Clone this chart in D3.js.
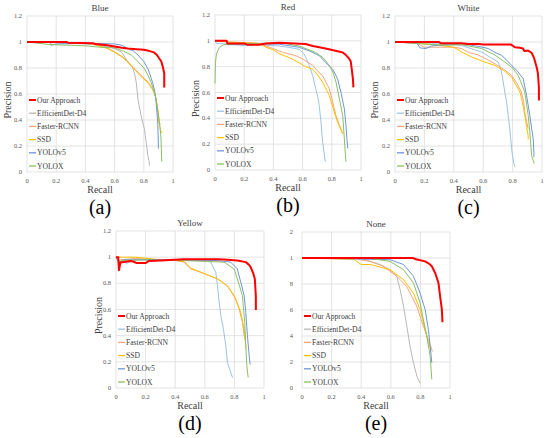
<!DOCTYPE html>
<html><head><meta charset="utf-8">
<script src="https://cdn.jsdelivr.net/npm/d3@7"></script>
<style>body{margin:0;background:#fff}svg{display:block}</style>
</head><body>
<svg id="c" width="550" height="438"></svg>
<script>
// ---------- data ----------
const seriesNames = ["Our Approach","EfficientDet-D4","Faster-RCNN","SSD","YOLOv5","YOLOX"];
const panelTitles = ["Blue","Red","White","Yellow","None"];
const panelLetters = ["(a)","(b)","(c)","(d)","(e)"];
const xTicks = [0,0.2,0.4,0.6,0.8,1];
const xTickLabels = ["0","0.2","0.4","0.6","0.8","1"];
const yTicks = [0,0.2,0.4,0.6,0.8,1,1.2];
const yTickLabels = ["0","0.2","0.4","0.6","0.8","1","1.2"];
const yTickLabelsCropped = ["0","2","4","6","8","1","2"];

// Blue
const blueOurs = [[0,1],[0.27,1],[0.28,0.995],[0.45,0.99],[0.47,0.985],[0.55,0.975],[0.6,0.965],[0.65,0.955],[0.69,0.95],[0.75,0.945],[0.8,0.94],[0.84,0.93],[0.87,0.92],[0.89,0.9],[0.905,0.875],[0.92,0.85],[0.93,0.81],[0.94,0.76],[0.94,0.65]];
const blueEff = [[0,1],[0.2,0.995],[0.4,0.985],[0.5,0.975],[0.6,0.95],[0.65,0.92],[0.69,0.85],[0.725,0.8],[0.74,0.74],[0.748,0.69],[0.755,0.62],[0.76,0.56],[0.77,0.5],[0.78,0.44],[0.795,0.37],[0.805,0.33],[0.81,0.28],[0.816,0.23],[0.822,0.18],[0.827,0.13],[0.835,0.09],[0.84,0.05]];
const blueFaster = [[0,1],[0.3,0.995],[0.45,0.985],[0.55,0.955],[0.6,0.925],[0.65,0.89],[0.69,0.85],[0.74,0.79],[0.78,0.745],[0.83,0.69],[0.86,0.64],[0.875,0.6],[0.885,0.56],[0.895,0.46],[0.9,0.42],[0.905,0.38],[0.915,0.37]];
const blueSSD = [[0,1],[0.3,0.995],[0.45,0.985],[0.55,0.95],[0.6,0.92],[0.65,0.885],[0.69,0.845],[0.74,0.785],[0.78,0.735],[0.83,0.685],[0.86,0.635],[0.88,0.58],[0.89,0.52],[0.9,0.45],[0.907,0.36],[0.915,0.32],[0.925,0.3]];
const blueV5 = [[0,1],[0.16,1],[0.165,0.975],[0.2,0.985],[0.4,0.99],[0.6,0.985],[0.65,0.975],[0.69,0.95],[0.73,0.93],[0.76,0.9],[0.8,0.85],[0.83,0.79],[0.86,0.69],[0.875,0.62],[0.884,0.54],[0.89,0.46],[0.895,0.385],[0.898,0.3],[0.9,0.18]];
const blueX = [[0,1],[0.16,0.98],[0.3,0.975],[0.4,0.97],[0.5,0.96],[0.6,0.955],[0.66,0.93],[0.714,0.9],[0.76,0.85],[0.805,0.795],[0.83,0.74],[0.85,0.69],[0.87,0.62],[0.884,0.564],[0.895,0.48],[0.907,0.385],[0.915,0.3],[0.918,0.256],[0.92,0.18],[0.923,0.08]];

// Red
const redOurs = [[0,1],[0.08,1],[0.085,0.98],[0.2,0.98],[0.22,0.97],[0.3,0.97],[0.35,0.98],[0.44,0.985],[0.62,0.975],[0.67,0.96],[0.74,0.945],[0.78,0.935],[0.84,0.92],[0.875,0.91],[0.897,0.89],[0.92,0.86],[0.93,0.84],[0.94,0.75],[0.945,0.7],[0.948,0.64]];
const redEff = [[0,1],[0.01,0.98],[0.1,0.975],[0.2,0.965],[0.3,0.97],[0.44,0.96],[0.5,0.95],[0.577,0.935],[0.61,0.9],[0.646,0.81],[0.669,0.73],[0.69,0.63],[0.705,0.56],[0.714,0.5],[0.726,0.37],[0.737,0.22],[0.749,0.115],[0.756,0.064]];
const redFaster = [[0,1],[0.1,0.99],[0.25,0.985],[0.3,0.98],[0.35,0.96],[0.4,0.94],[0.44,0.92],[0.5,0.9],[0.554,0.885],[0.6,0.86],[0.669,0.81],[0.7,0.77],[0.737,0.73],[0.76,0.68],[0.783,0.63],[0.806,0.526],[0.829,0.42],[0.852,0.346],[0.875,0.28]];
const redSSD = [[0,1],[0.1,0.99],[0.3,0.98],[0.35,0.95],[0.4,0.93],[0.44,0.9],[0.51,0.87],[0.577,0.83],[0.62,0.8],[0.669,0.78],[0.7,0.74],[0.737,0.68],[0.783,0.577],[0.817,0.45],[0.84,0.37],[0.863,0.31],[0.875,0.28]];
const redV5 = [[0,1],[0.08,1],[0.085,0.97],[0.2,0.97],[0.3,0.975],[0.44,0.974],[0.577,0.95],[0.65,0.92],[0.714,0.885],[0.76,0.83],[0.806,0.78],[0.84,0.705],[0.863,0.6],[0.886,0.474],[0.897,0.346],[0.903,0.25],[0.909,0.167]];
const redX = [[0,0.67],[0.003,0.83],[0.01,0.9],[0.03,0.95],[0.06,0.97],[0.1,0.975],[0.3,0.98],[0.44,0.987],[0.577,0.96],[0.69,0.91],[0.74,0.87],[0.783,0.81],[0.81,0.75],[0.829,0.68],[0.852,0.55],[0.875,0.42],[0.886,0.24],[0.893,0.12],[0.897,0.064]];

// White
const whiteOurs = [[0,1],[0.3,1],[0.31,0.99],[0.45,0.99],[0.5,0.985],[0.57,0.985],[0.6,0.98],[0.79,0.98],[0.815,0.96],[0.85,0.955],[0.87,0.95],[0.88,0.93],[0.906,0.935],[0.93,0.915],[0.945,0.88],[0.955,0.84],[0.965,0.8],[0.972,0.76],[0.979,0.65],[0.979,0.55]];
const whiteEff = [[0,1],[0.3,0.99],[0.45,0.974],[0.589,0.923],[0.65,0.88],[0.702,0.846],[0.725,0.77],[0.735,0.7],[0.747,0.615],[0.76,0.53],[0.77,0.436],[0.781,0.333],[0.788,0.25],[0.793,0.18],[0.8,0.12],[0.808,0.07],[0.815,0.04]];
const whiteFaster = [[0,1],[0.15,0.99],[0.2,0.96],[0.4,0.96],[0.453,0.95],[0.5,0.92],[0.566,0.9],[0.62,0.87],[0.679,0.833],[0.74,0.79],[0.793,0.744],[0.83,0.68],[0.86,0.615],[0.875,0.54],[0.883,0.46],[0.895,0.39],[0.906,0.333]];
const whiteSSD = [[0,1],[0.15,0.99],[0.3,0.975],[0.4,0.96],[0.453,0.923],[0.521,0.885],[0.6,0.85],[0.679,0.82],[0.74,0.78],[0.793,0.73],[0.85,0.615],[0.87,0.52],[0.883,0.436],[0.895,0.35],[0.906,0.28],[0.906,0.25]];
const whiteV5 = [[0,1],[0.15,0.99],[0.17,0.955],[0.21,0.95],[0.25,0.97],[0.35,0.98],[0.453,0.987],[0.55,0.97],[0.634,0.95],[0.68,0.92],[0.725,0.897],[0.76,0.86],[0.793,0.82],[0.83,0.78],[0.872,0.718],[0.895,0.59],[0.917,0.436],[0.93,0.33],[0.94,0.256],[0.945,0.15],[0.945,0.115]];
const whiteX = [[0,1],[0.15,0.99],[0.2,0.985],[0.35,0.975],[0.453,0.98],[0.589,0.95],[0.68,0.9],[0.747,0.846],[0.8,0.8],[0.838,0.744],[0.883,0.615],[0.895,0.52],[0.906,0.436],[0.917,0.31],[0.929,0.128],[0.94,0.09],[0.947,0.064]];

// Yellow
const yellowOurs = [[0,1],[0.015,1],[0.02,0.9],[0.03,0.96],[0.1,0.97],[0.12,0.965],[0.14,0.955],[0.2,0.955],[0.22,0.97],[0.3,0.975],[0.46,0.985],[0.686,0.985],[0.73,0.982],[0.82,0.974],[0.877,0.962],[0.9,0.94],[0.91,0.923],[0.929,0.872],[0.938,0.834],[0.945,0.7],[0.945,0.596]];
const yellowEff = [[0,1],[0.02,0.95],[0.05,0.97],[0.07,0.95],[0.1,0.97],[0.15,0.98],[0.46,0.974],[0.595,0.974],[0.64,0.962],[0.674,0.885],[0.686,0.78],[0.697,0.655],[0.708,0.552],[0.726,0.45],[0.742,0.322],[0.753,0.194],[0.776,0.118],[0.787,0.08]];
const yellowFaster = [[0,1],[0.02,0.97],[0.03,0.98],[0.13,0.99],[0.3,0.98],[0.4,0.975],[0.46,0.962],[0.505,0.91],[0.573,0.885],[0.686,0.834],[0.753,0.78],[0.798,0.706],[0.832,0.604],[0.855,0.5],[0.866,0.4],[0.877,0.348]];
const yellowSSD = [[0,1],[0.13,1],[0.3,0.98],[0.4,0.975],[0.46,0.967],[0.505,0.916],[0.573,0.885],[0.686,0.834],[0.753,0.78],[0.809,0.68],[0.843,0.578],[0.866,0.45],[0.877,0.322],[0.88,0.3]];
const yellowV5 = [[0,1],[0.02,0.96],[0.05,0.98],[0.46,0.982],[0.686,0.974],[0.775,0.962],[0.82,0.91],[0.843,0.808],[0.866,0.706],[0.877,0.578],[0.888,0.4],[0.9,0.246],[0.906,0.18]];
const yellowX = [[0,1],[0.02,0.97],[0.05,0.975],[0.2,0.98],[0.46,0.974],[0.73,0.962],[0.798,0.91],[0.82,0.834],[0.854,0.706],[0.87,0.5],[0.877,0.322],[0.884,0.169],[0.893,0.08]];

// None
const noneOurs = [[0,1],[0.75,1],[0.77,0.99],[0.832,0.974],[0.86,0.955],[0.877,0.936],[0.9,0.885],[0.91,0.85],[0.922,0.808],[0.933,0.706],[0.945,0.604],[0.949,0.506]];
const noneEff = [[0,1],[0.4,1],[0.46,0.974],[0.528,0.95],[0.595,0.91],[0.64,0.86],[0.663,0.757],[0.686,0.63],[0.708,0.476],[0.73,0.322],[0.753,0.194],[0.776,0.092],[0.798,0.036]];
const noneFaster = [[0,1],[0.35,1],[0.4,0.985],[0.46,0.974],[0.55,0.936],[0.64,0.86],[0.708,0.78],[0.775,0.63],[0.82,0.476],[0.854,0.373],[0.877,0.297],[0.88,0.28]];
const noneSSD = [[0,1],[0.35,0.99],[0.4,0.95],[0.46,0.95],[0.595,0.91],[0.686,0.834],[0.753,0.73],[0.798,0.604],[0.832,0.45],[0.854,0.348],[0.87,0.297]];
const noneV5 = [[0,1],[0.46,0.99],[0.595,0.987],[0.686,0.95],[0.753,0.86],[0.798,0.73],[0.832,0.604],[0.854,0.45],[0.866,0.322],[0.877,0.194]];
const noneX = [[0,1],[0.46,0.997],[0.595,0.974],[0.686,0.91],[0.753,0.808],[0.798,0.655],[0.82,0.527],[0.843,0.4],[0.866,0.246],[0.877,0.066]];

// ---------- layout / style ----------
const colOurs = "#ff0000", colGray = "#b8b8b8", colLightBlue = "#9dc3e6",
      colFaster = "#f4a57c", colSSD = "#ffc000", colV5 = "#6d96da", colX = "#8cc063";

const panels = [
  {x0:27, x1:173, y0:16, y1:172, data:[blueOurs,blueEff,blueFaster,blueSSD,blueV5,blueX], effCol:colGray, ylab:8, ylabel:true, crop:false},
  {x0:215,x1:361, y0:15, y1:170, data:[redOurs,redEff,redFaster,redSSD,redV5,redX], effCol:colLightBlue, ylab:196, ylabel:true, crop:false},
  {x0:395,x1:542, y0:16, y1:172, data:[whiteOurs,whiteEff,whiteFaster,whiteSSD,whiteV5,whiteX], effCol:colLightBlue, ylab:375, ylabel:true, crop:false},
  {x0:116,x1:264, y0:231,y1:388, data:[yellowOurs,yellowEff,yellowFaster,yellowSSD,yellowV5,yellowX], effCol:colLightBlue, ylab:99, ylabel:true, crop:false},
  {x0:302,x1:450, y0:232,y1:388, data:[noneOurs,noneEff,noneFaster,noneSSD,noneV5,noneX], effCol:colGray, ylab:0, ylabel:false, crop:true}
];

const svg = d3.select("#c");
const serif = "'Liberation Serif','DejaVu Serif',serif";

panels.forEach((p, i) => {
  const x = d3.scaleLinear().domain([0,1]).range([p.x0,p.x1]);
  const y = d3.scaleLinear().domain([0,1.2]).range([p.y1,p.y0]);
  const g = svg.append("g");

  // gridlines
  g.selectAll(".vg").data(xTicks).join("line")
    .attr("x1", d=>x(d)).attr("x2", d=>x(d)).attr("y1", p.y0).attr("y2", p.y1)
    .attr("stroke", "#dcdcdc").attr("stroke-width", 0.8);
  g.selectAll(".hg").data(yTicks).join("line")
    .attr("x1", p.x0).attr("x2", p.x1).attr("y1", d=>y(d)).attr("y2", d=>y(d))
    .attr("stroke", "#dcdcdc").attr("stroke-width", 0.8);

  // tick labels
  const yl = p.crop ? yTickLabelsCropped : yTickLabels;
  g.selectAll(".yt").data(yTicks).join("text")
    .attr("x", p.crop ? p.x0 - 9 : p.x0 - 5).attr("y", d=>y(d)+2)
    .attr("text-anchor","end").attr("font-family",serif).attr("font-size",6.5).attr("fill","#595959")
    .text((d,k)=>yl[k]);
  g.selectAll(".xt").data(xTicks).join("text")
    .attr("x", d=>x(d)).attr("y", p.y1+11)
    .attr("text-anchor","middle").attr("font-family",serif).attr("font-size",6.5).attr("fill","#595959")
    .text((d,k)=>xTickLabels[k]);

  // title, axis titles, letter
  g.append("text").attr("x",(p.x0+p.x1)/2).attr("y",p.y0-5).attr("text-anchor","middle")
    .attr("font-family",serif).attr("font-size",9).attr("fill","#404040").text(panelTitles[i]);
  g.append("text").attr("x",(p.x0+p.x1)/2).attr("y",p.y1+21).attr("text-anchor","middle")
    .attr("font-family",serif).attr("font-size",10).attr("fill","#404040").text("Recall");
  if (p.ylabel) {
    g.append("text").attr("transform",`translate(${p.ylab+3},${(p.y0+p.y1)/2+6}) rotate(-90)`)
      .attr("text-anchor","middle").attr("font-family",serif).attr("font-size",10).attr("fill","#404040").text("Precision");
  }
  g.append("text").attr("x",(p.x0+p.x1)/2).attr("y",p.y1+42).attr("text-anchor","middle")
    .attr("font-family",serif).attr("font-size",20).attr("fill","#000").text(panelLetters[i]);

  // curves
  const cols = [colOurs, p.effCol, colFaster, colSSD, colV5, colX];
  const line = d3.line().x(d=>x(d[0])).y(d=>y(d[1]));
  const order = [1,2,3,4,5,0];
  order.forEach(k => {
    g.append("path").attr("d", line(p.data[k])).attr("fill","none")
      .attr("stroke", cols[k]).attr("stroke-width", k===0 ? 2 : 1)
      .attr("stroke-linejoin","round");
  });

  // legend
  const ly0 = p.y1 - 72;
  seriesNames.forEach((nm,k) => {
    const yy = ly0 + k*13.2;
    g.append("line").attr("x1",p.x0+2).attr("x2",p.x0+9).attr("y1",yy).attr("y2",yy)
      .attr("stroke",cols[k]).attr("stroke-width", k===0 ? 2 : 1.3);
    g.append("text").attr("x",p.x0+10).attr("y",yy+2.5)
      .attr("font-family",serif).attr("font-size",7.6).attr("fill","#404040").text(nm);
  });
});
</script>
</body></html>
